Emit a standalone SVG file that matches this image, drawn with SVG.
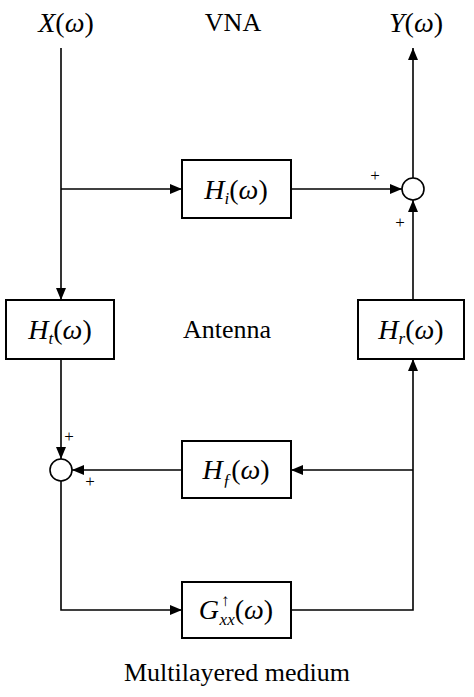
<svg xmlns="http://www.w3.org/2000/svg" width="474" height="697" viewBox="0 0 474 697">
<defs>
<marker id="a" markerWidth="12" markerHeight="10" refX="12" refY="5" orient="auto" markerUnits="userSpaceOnUse">
<path d="M0,0 L12,5 L0,10 Z" fill="#000"/>
</marker>
</defs>
<rect width="474" height="697" fill="#fff"/>
<g id="connectors" fill="none" stroke="#000" stroke-width="1.6">
<line x1="61" y1="48" x2="61" y2="300" marker-end="url(#a)"/>
<line x1="61" y1="189" x2="182" y2="189" marker-end="url(#a)"/>
<line x1="291" y1="189" x2="402" y2="189" marker-end="url(#a)"/>
<line x1="413" y1="300" x2="413" y2="200" marker-end="url(#a)"/>
<line x1="413" y1="178" x2="413" y2="48" marker-end="url(#a)"/>
<line x1="61" y1="359" x2="61" y2="459" marker-end="url(#a)"/>
<line x1="413" y1="470" x2="291" y2="470" marker-end="url(#a)"/>
<line x1="182" y1="470" x2="72" y2="470" marker-end="url(#a)"/>
<polyline points="61,481 61,610 182,610" marker-end="url(#a)"/>
<polyline points="291,610 413,610 413,359" marker-end="url(#a)"/>
</g>
<g id="labels">
<text font-family="Liberation Serif" font-size="28" font-style="italic" x="66" y="32" text-anchor="middle">X<tspan font-style="normal">(</tspan>ω<tspan font-style="normal">)</tspan></text>
<text font-family="Liberation Serif" font-size="26" x="233" y="31" text-anchor="middle">VNA</text>
<text font-family="Liberation Serif" font-size="28" font-style="italic" x="416" y="32" text-anchor="middle">Y<tspan font-style="normal">(</tspan>ω<tspan font-style="normal">)</tspan></text>
<text font-family="Liberation Serif" font-size="26" x="227" y="338" text-anchor="middle">Antenna</text>
<text font-family="Liberation Serif" font-size="26" x="237" y="681" text-anchor="middle">Multilayered medium</text>
</g>
<g id="Hi">
<rect x="182" y="160" width="109" height="58" fill="#fff" stroke="#000" stroke-width="2"/>
<text font-family="Liberation Serif" font-size="28" font-style="italic" x="236" y="199" text-anchor="middle">H<tspan font-size="17" dy="5">i</tspan><tspan font-style="normal" dy="-5">(</tspan>ω<tspan font-style="normal">)</tspan></text>
</g>
<g id="sumTop">
<circle cx="413" cy="189" r="11" fill="#fff" stroke="#000" stroke-width="1.6"/>
<text font-family="Liberation Serif" font-size="17" x="375" y="181" text-anchor="middle">+</text>
<text font-family="Liberation Serif" font-size="17" x="400" y="228" text-anchor="middle">+</text>
</g>
<g id="Ht">
<rect x="6" y="300" width="108" height="59" fill="#fff" stroke="#000" stroke-width="2"/>
<text font-family="Liberation Serif" font-size="28" font-style="italic" x="60" y="339" text-anchor="middle">H<tspan font-size="17" dy="5">t</tspan><tspan font-style="normal" dy="-5">(</tspan>ω<tspan font-style="normal">)</tspan></text>
</g>
<g id="Hr">
<rect x="358" y="300" width="106" height="59" fill="#fff" stroke="#000" stroke-width="2"/>
<text font-family="Liberation Serif" font-size="28" font-style="italic" x="411" y="339" text-anchor="middle">H<tspan font-size="17" dy="5">r</tspan><tspan font-style="normal" dy="-5">(</tspan>ω<tspan font-style="normal">)</tspan></text>
</g>
<g id="Hf">
<rect x="182" y="441" width="109" height="57" fill="#fff" stroke="#000" stroke-width="2"/>
<text font-family="Liberation Serif" font-size="28" font-style="italic" x="236" y="479" text-anchor="middle">H<tspan font-size="17" dy="6">ƒ</tspan><tspan font-style="normal" dy="-6">(</tspan>ω<tspan font-style="normal">)</tspan></text>
</g>
<g id="sumBottom">
<circle cx="61" cy="470" r="11" fill="#fff" stroke="#000" stroke-width="1.6"/>
<text font-family="Liberation Serif" font-size="17" x="69" y="442" text-anchor="middle">+</text>
<text font-family="Liberation Serif" font-size="17" x="90" y="487" text-anchor="middle">+</text>
</g>
<g id="G">
<rect x="182" y="582" width="109" height="56" fill="#fff" stroke="#000" stroke-width="2"/>
<text font-family="Liberation Serif" font-size="28" font-style="italic" x="236" y="619" text-anchor="middle">G<tspan font-size="17" font-style="normal" dx="2" dy="-13">↑</tspan><tspan font-size="17" dx="-10" dy="19">xx</tspan><tspan font-style="normal" dy="-6">(</tspan>ω<tspan font-style="normal">)</tspan></text>
</g>
</svg>
